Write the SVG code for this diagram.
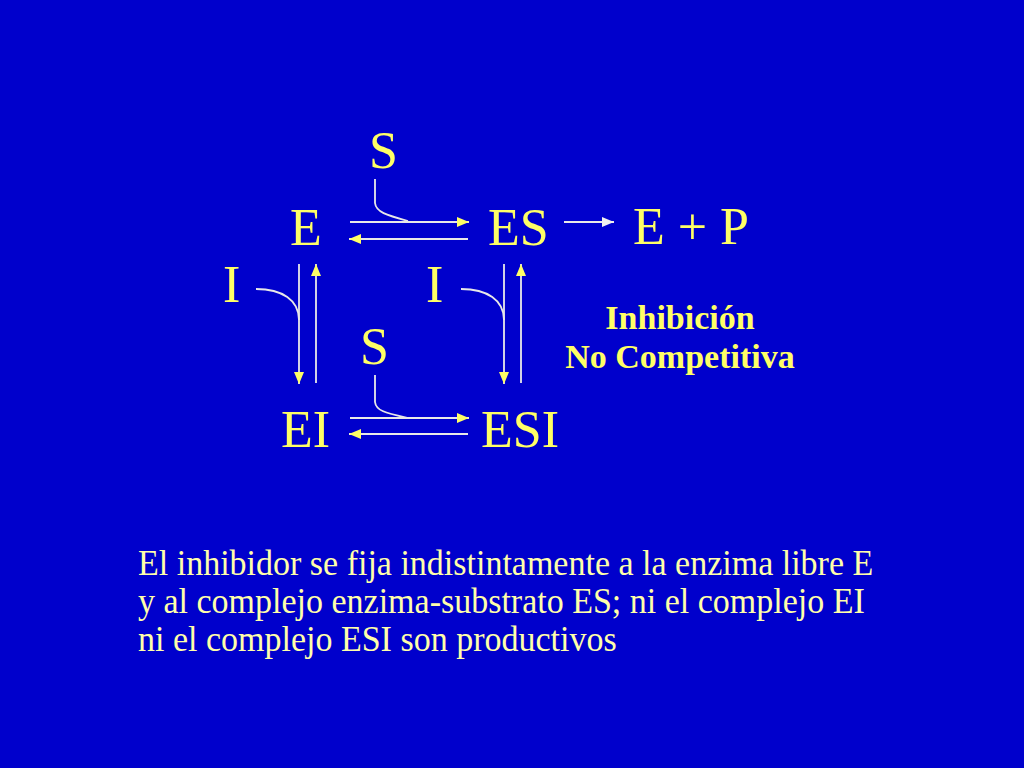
<svg xmlns="http://www.w3.org/2000/svg" width="1024" height="768" viewBox="0 0 1024 768">
<defs>
<style>
.big{font-family:"Liberation Serif","Times New Roman",serif;font-size:52px;fill:#FFFF66}
.head{font-family:"Liberation Serif","Times New Roman",serif;font-size:34px;font-weight:bold;fill:#FFFF66;text-anchor:middle}
.body{font-family:"Liberation Serif","Times New Roman",serif;font-size:34px;fill:#FFFFAA}
.ln{stroke:#E8E8E8;stroke-width:1.8;fill:none}
</style>
<marker id="ah" markerUnits="userSpaceOnUse" markerWidth="13" markerHeight="10" refX="12" refY="5" orient="auto">
<path d="M0,0 L12,5 L0,10 Z" fill="#FFFF66"/>
</marker>
<marker id="ahw" markerUnits="userSpaceOnUse" markerWidth="13" markerHeight="10" refX="12" refY="5" orient="auto">
<path d="M0,0 L12,5 L0,10 Z" fill="#F0F0F0"/>
</marker>
</defs>
<rect width="1024" height="768" fill="#0000CC"/>
<g id="node-S-top"><text class="big" x="369" y="168">S</text></g>
<g id="node-E"><text class="big" x="290" y="245">E</text></g>
<g id="node-ES"><text class="big" x="488" y="245">ES</text></g>
<g id="node-EP"><text class="big" x="633" y="244">E + P</text></g>
<g id="node-I-left"><text class="big" x="223" y="302">I</text></g>
<g id="node-I-right"><text class="big" x="426" y="302">I</text></g>
<g id="node-S-mid"><text class="big" x="360" y="364">S</text></g>
<g id="node-EI"><text class="big" x="281" y="447">EI</text></g>
<g id="node-ESI"><text class="big" x="481" y="447">ESI</text></g>
<g id="label-title">
<text class="head" x="680" y="329">Inhibición</text>
<text class="head" x="680" y="368">No Competitiva</text>
</g>
<g id="caption">
<text class="body" transform="translate(138,575) scale(1,1.08)">El inhibidor se fija indistintamente a la enzima libre E</text>
<text class="body" transform="translate(138,613) scale(1,1.08)">y al complejo enzima-substrato ES; ni el complejo EI</text>
<text class="body" transform="translate(138,651) scale(1,1.08)">ni el complejo ESI son productivos</text>
</g>
<g id="connectors">
<line class="ln" x1="350" y1="222" x2="469" y2="222" marker-end="url(#ah)"/>
<line class="ln" x1="468" y1="239" x2="349" y2="239" marker-end="url(#ah)"/>
<path class="ln" d="M375,179 L375,203 C376,212 386,215 408,221"/>
<line class="ln" x1="564" y1="222" x2="614" y2="222" marker-end="url(#ahw)"/>
<line class="ln" x1="299" y1="264" x2="299" y2="384" marker-end="url(#ah)"/>
<line class="ln" x1="316" y1="383" x2="316" y2="264" marker-end="url(#ah)"/>
<path class="ln" d="M256,289 C282,289 299,300 299,320"/>
<line class="ln" x1="504" y1="264" x2="504" y2="384" marker-end="url(#ah)"/>
<line class="ln" x1="521" y1="383" x2="521" y2="264" marker-end="url(#ah)"/>
<path class="ln" d="M461,289 C487,289 504,300 504,320"/>
<line class="ln" x1="350" y1="418" x2="469" y2="418" marker-end="url(#ah)"/>
<line class="ln" x1="468" y1="434" x2="349" y2="434" marker-end="url(#ah)"/>
<path class="ln" d="M375,375 L375,402 C376,411 386,413 408,418"/>
</g>
</svg>
